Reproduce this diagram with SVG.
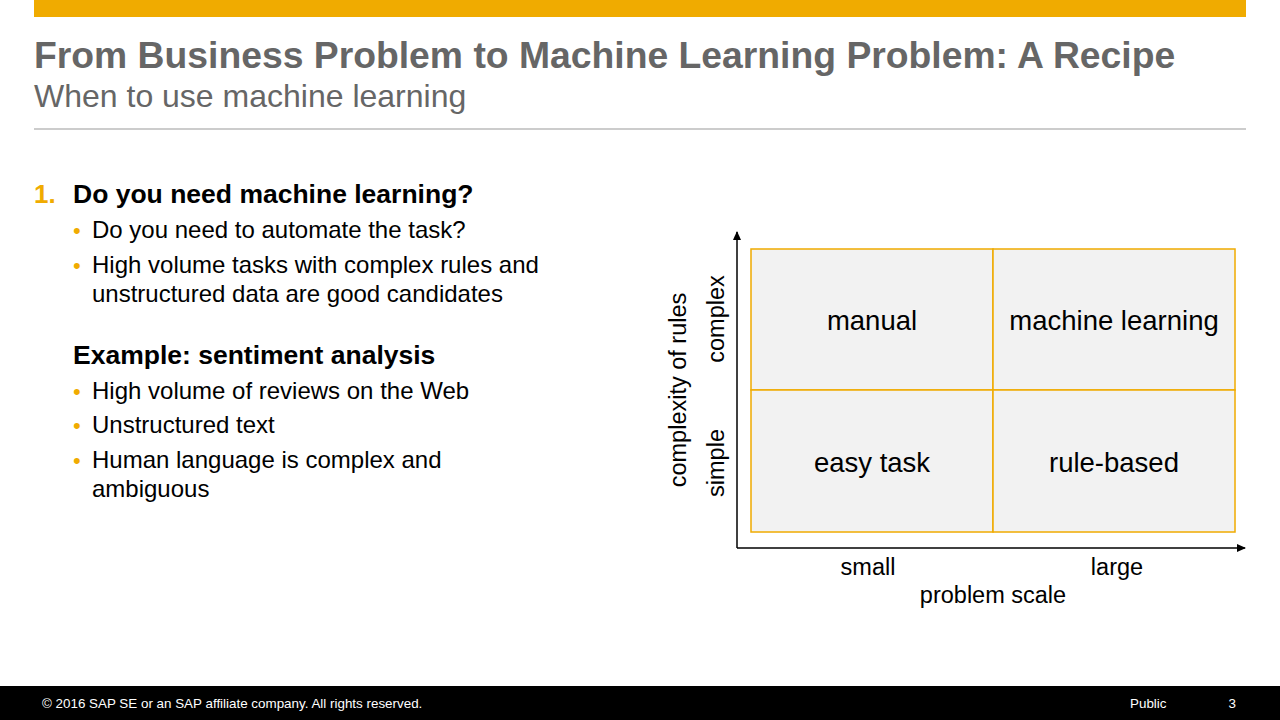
<svg xmlns="http://www.w3.org/2000/svg" width="1280" height="720" viewBox="0 0 1280 720">
<style>
text{font-family:"Liberation Sans",Arial,sans-serif}
.b{font-size:24px;fill:#000}
.dot{font-size:22px;fill:#f0ab00}
.q{fill:#f2f2f2;stroke:#f0ab00;stroke-width:1.5}
.ql{font-size:27.5px;fill:#000;text-anchor:middle}
.al{font-size:23.5px;fill:#000;text-anchor:middle}
.ax{stroke:#000;stroke-width:1.5;fill:none}
</style>
<defs><marker id="ar" markerWidth="10" markerHeight="10" refX="8" refY="4" orient="auto" markerUnits="userSpaceOnUse"><path d="M0,0 L9,4 L0,8 z" fill="#000"/></marker></defs>
<rect x="34" y="0" width="1212" height="17" fill="#f0ab00"/>
<text x="34" y="68" font-size="37.3" font-weight="bold" fill="#666">From Business Problem to Machine Learning Problem: A Recipe</text>
<text x="34" y="107" font-size="32" fill="#666">When to use machine learning</text>
<line x1="34" y1="129" x2="1246" y2="129" stroke="#999" stroke-width="1"/>
<text x="34" y="203" font-size="26" font-weight="bold" fill="#f0ab00">1.</text>
<text x="73" y="203" font-size="26.5" font-weight="bold" fill="#000">Do you need machine learning?</text>
<text x="73" y="238" class="dot">•</text><text x="92" y="238" class="b">Do you need to automate the task?</text>
<text x="73" y="273" class="dot">•</text><text x="92" y="273" class="b">High volume tasks with complex rules and</text>
<text x="92" y="302" class="b">unstructured data are good candidates</text>
<text x="73" y="364" font-size="26.5" font-weight="bold" fill="#000">Example: sentiment analysis</text>
<text x="73" y="399" class="dot">•</text><text x="92" y="399" class="b">High volume of reviews on the Web</text>
<text x="73" y="433" class="dot">•</text><text x="92" y="433" class="b">Unstructured text</text>
<text x="73" y="468" class="dot">•</text><text x="92" y="468" class="b">Human language is complex and</text>
<text x="92" y="497" class="b">ambiguous</text>
<g id="nodes">
<g id="manual"><rect class="q" x="751" y="249" width="242" height="141"/><text class="ql" x="872" y="330">manual</text></g>
<g id="ml"><rect class="q" x="993" y="249" width="242" height="141"/><text class="ql" x="1114" y="330">machine learning</text></g>
<g id="easy"><rect class="q" x="751" y="390" width="242" height="142"/><text class="ql" x="872" y="472">easy task</text></g>
<g id="rule"><rect class="q" x="993" y="390" width="242" height="142"/><text class="ql" x="1114" y="472">rule-based</text></g>
</g>
<g id="connectors">
<line class="ax" x1="737" y1="548" x2="737" y2="232" marker-end="url(#ar)"/>
<line class="ax" x1="737" y1="548" x2="1245" y2="548" marker-end="url(#ar)"/>
</g>
<text x="868" y="575" class="al">small</text>
<text x="1117" y="575" class="al">large</text>
<text x="993" y="603" class="al">problem scale</text>
<text transform="translate(686,390) rotate(-90)" class="al">complexity of rules</text>
<text transform="translate(724,319) rotate(-90)" class="al">complex</text>
<text transform="translate(724,463) rotate(-90)" class="al">simple</text>
<rect x="0" y="686" width="1280" height="34" fill="#000"/>
<text x="42" y="708" font-size="13.4" fill="#fff">© 2016 SAP SE or an SAP affiliate company. All rights reserved.</text>
<text x="1130" y="708" font-size="13.4" fill="#fff">Public</text>
<text x="1236" y="708" font-size="13.4" fill="#fff" text-anchor="end">3</text>
</svg>
